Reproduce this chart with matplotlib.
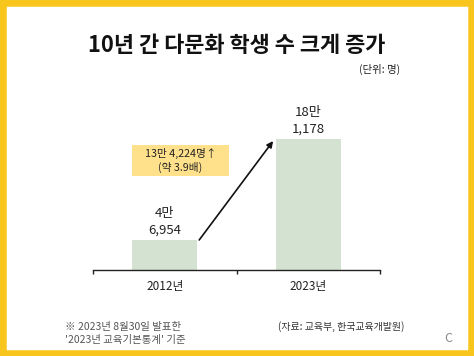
import matplotlib
matplotlib.use('Agg')
import matplotlib.pyplot as plt
from matplotlib.patches import Rectangle

plt.rcParams['font.family'] = ['Noto Sans CJK KR', 'DejaVu Sans']

years = ['2012년', '2023년']
students = [46954, 181178]
bar_labels = ['4만\n6,954', '18만\n1,178']
increase_text = '13만 4,224명↑\n(약 3.9배)'

W, H = 474, 356
fig = plt.figure(figsize=(W / 100, H / 100), dpi=100)
fig.patch.set_facecolor('white')

# yellow frame
fig.patches.append(Rectangle((0, 0), 1, 1, transform=fig.transFigure,
                             fill=False, edgecolor='#F7C51C', linewidth=9))

ax = fig.add_axes([93 / W, 1 - 270 / H, 287 / W, 170 / H])
x = range(len(years))
ax.bar(x, students, width=0.45, color='#D4E2D2')
ax.set_xlim(-0.5, 1.5)
ax.set_ylim(7086, 233000)

for s in ['top', 'right', 'left']:
    ax.spines[s].set_visible(False)
ax.spines['bottom'].set_color('#222222')
ax.spines['bottom'].set_linewidth(1.0)
ax.set_yticks([])
ax.set_xticks(list(x))
ax.set_xticklabels(years, fontsize=8.5, color='#222222')
ax.tick_params(axis='x', which='major', length=0, pad=7)
ax.set_xticks([-0.5, 0.5, 1.5], minor=True)
ax.tick_params(axis='x', which='minor', length=3, width=1, color='#222222')

for i, v in enumerate(students):
    ax.text(i, v + 4000, bar_labels[i], ha='center', va='bottom',
            fontsize=9.5, color='#222222', linespacing=1.35)

ax.annotate('', xy=(1 - 0.245, students[1] * 0.985),
            xytext=(0.24, students[0]),
            arrowprops=dict(arrowstyle='-|>', color='#111111', lw=1.2,
                            mutation_scale=9, shrinkA=0, shrinkB=0))

# increase box
ax.add_patch(Rectangle((39 / 287, (270 - 176) / 170), 97 / 287, 31 / 170,
                       transform=ax.transAxes, facecolor='#FFE18C',
                       edgecolor='none', clip_on=False))
ax.text((39 + 48.5) / 287, (270 - 160.5) / 170, increase_text,
        transform=ax.transAxes, ha='center', va='center', fontsize=7.7,
        color='#222222', linespacing=1.3)

fig.text(0.5, 1 - 45 / H, '10년 간 다문화 학생 수 크게 증가', ha='center',
         va='center', fontsize=15.8, fontweight='bold', color='#111111')
fig.text(400 / W, 1 - 69 / H, '(단위: 명)', ha='right', va='center',
         fontsize=7.5, color='#222222')

fig.text(65 / W, 1 - 333.5 / H, '※ 2023년 8월30일 발표한\n\'2023년 교육기본통계\' 기준',
         ha='left', va='center', fontsize=7.5, color='#555555', linespacing=1.45)
fig.text(278 / W, 1 - 327 / H, '(자료: 교육부, 한국교육개발원)', ha='left',
         va='center', fontsize=7.2, color='#333333')
fig.text(448 / W, 1 - 338 / H, 'C', ha='center', va='center', fontsize=9,
         color='#888888')

fig.savefig('out.png', dpi=100, facecolor='white')
